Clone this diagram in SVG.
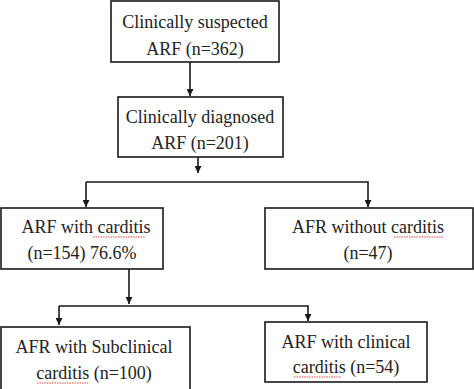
<svg xmlns="http://www.w3.org/2000/svg" width="474" height="389" viewBox="0 0 474 389">
<defs>
<style>
.box{fill:#fff;stroke:#1a1a1a;stroke-width:1.6}
.t{font-family:'Liberation Serif',serif;font-size:18px;fill:#222;text-anchor:middle}
.c{fill:none;stroke:#1a1a1a;stroke-width:1.6}
.sq{fill:none;stroke:#d33;stroke-width:0.9;stroke-dasharray:1.5 1}
</style>
<marker id="ah" viewBox="0 0 10 10" refX="10" refY="5" markerWidth="7" markerHeight="7" markerUnits="userSpaceOnUse" orient="auto">
<path d="M0,0 L10,5 L0,10 z" fill="#1a1a1a"/>
</marker>
</defs>
<rect width="474" height="389" fill="#fff"/>
<g id="connectors">
<line class="c" x1="190" y1="62" x2="190" y2="96" marker-end="url(#ah)"/>
<line class="c" x1="198" y1="157" x2="198" y2="173" marker-end="url(#ah)"/>
<polyline class="c" points="86,182 368,182 368,207" marker-end="url(#ah)"/>
<line class="c" x1="86" y1="182" x2="86" y2="207" marker-end="url(#ah)"/>
<line class="c" x1="129" y1="269" x2="129" y2="304" marker-end="url(#ah)"/>
<polyline class="c" points="59,306 308,306 308,321" marker-end="url(#ah)"/>
<line class="c" x1="59" y1="306" x2="59" y2="325" marker-end="url(#ah)"/>
</g>
<g id="n1">
<rect class="box" x="111" y="1" width="168" height="61"/>
<text class="t" x="195" y="28" font-family="Liberation Serif">Clinically suspected</text>
<text class="t" x="195" y="55" font-family="Liberation Serif">ARF (n=362)</text>
</g>
<g id="n2">
<rect class="box" x="118" y="97" width="165" height="60"/>
<text class="t" x="200" y="123">Clinically diagnosed</text>
<text class="t" x="200" y="149">ARF (n=201)</text>
</g>
<g id="n3">
<rect class="box" x="1" y="208" width="162" height="61"/>
<text class="t" x="86" y="233">ARF with carditis</text>
<text class="t" x="82" y="259">(n=154) 76.6%</text>
<path class="sq" d="M93,237 L145,237"/>
</g>
<g id="n4">
<rect class="box" x="265" y="208" width="208" height="61"/>
<text class="t" x="368" y="233">AFR without carditis</text>
<text class="t" x="368" y="259">(n=47)</text>
<path class="sq" d="M394,237 L444,237"/>
</g>
<g id="n5">
<rect class="box" x="1" y="327" width="189" height="70"/>
<text class="t" x="94" y="353">AFR with Subclinical</text>
<text class="t" x="94" y="379">carditis (n=100)</text>
<path class="sq" d="M37,383 L88,383"/>
</g>
<g id="n6">
<rect class="box" x="265" y="322" width="162" height="60"/>
<text class="t" x="346" y="348">ARF with clinical</text>
<text class="t" x="346" y="373">carditis (n=54)</text>
<path class="sq" d="M294,377 L341,377"/>
</g>
</svg>
